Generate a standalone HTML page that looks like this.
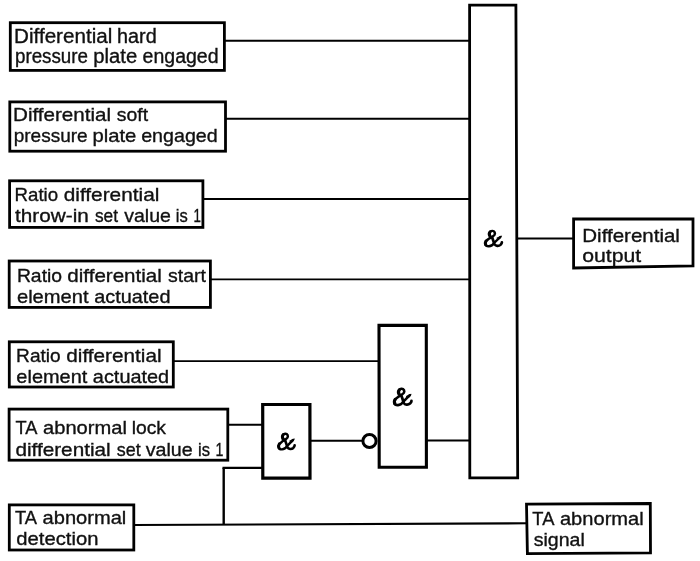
<!DOCTYPE html>
<html><head><meta charset="utf-8"><style>
html,body{margin:0;padding:0;background:#fff;}
svg{display:block;font-family:"Liberation Sans", sans-serif;filter:grayscale(100%);}
</style></head><body>
<svg width="700" height="561" viewBox="0 0 700 561">
<defs><g id="amp" fill="none" stroke="#000" stroke-linecap="round" stroke-linejoin="round">
<path d="M8.9,7.7 C5.8,6.9 5.2,1.2 8.8,0.9 C11.4,0.7 12.2,3.2 11.2,5.0 C10.2,6.6 7.8,7.8 5.6,9.1 C3.0,10.8 1.9,12.4 1.9,14.4 C1.9,16.5 3.6,17.2 5.6,17.1 C7.8,17.0 9.6,15.6 11.0,13.4 L17.0,7.3" stroke-width="2.5"/>
<path d="M6.3,6.0 C5.7,4.6 5.9,2.8 6.9,1.8" stroke-width="2.9"/>
<path d="M2.8,11.4 C2.0,12.6 2.0,14.6 2.6,15.6" stroke-width="3.0"/>
<path d="M8.6,7.4 C9.8,9.6 10.4,13.0 11.2,15.0 C12.2,17.0 15.4,17.2 17.2,15.6 C18.2,14.6 18.6,13.6 18.6,12.9" stroke-width="2.7"/>
<path d="M13.8,8.3 L18.3,6.2 L16.6,9.0 Z" fill="#000" stroke-width="0.8"/>
</g>
</defs>
<rect width="700" height="561" fill="#fff"/>
<g font-family="Liberation Sans" font-size="18.6" fill="#111" stroke="none">
<line x1="224" y1="40.8" x2="469" y2="40.8" stroke="#000" stroke-width="1.9"/>
<line x1="224" y1="118.8" x2="469" y2="118.8" stroke="#000" stroke-width="1.9"/>
<line x1="202" y1="199.0" x2="469" y2="199.0" stroke="#000" stroke-width="1.9"/>
<line x1="210" y1="279.4" x2="469" y2="279.4" stroke="#000" stroke-width="1.9"/>
<line x1="172" y1="361.1" x2="378" y2="361.1" stroke="#000" stroke-width="1.9"/>
<line x1="227" y1="424.7" x2="262" y2="424.7" stroke="#000" stroke-width="1.9"/>
<line x1="310" y1="440.7" x2="362" y2="440.7" stroke="#000" stroke-width="1.9"/>
<line x1="426" y1="440.5" x2="469" y2="440.5" stroke="#000" stroke-width="1.9"/>
<line x1="516" y1="238.5" x2="574" y2="238.5" stroke="#000" stroke-width="1.9"/>
<line x1="133" y1="525.0" x2="527" y2="523.3" stroke="#000" stroke-width="2.1"/>
<line x1="223.7" y1="467.8" x2="223.7" y2="524.6" stroke="#000" stroke-width="2.4"/>
<line x1="222.5" y1="467.8" x2="262" y2="467.8" stroke="#000" stroke-width="2.2"/>
<rect x="10.30" y="22.70" width="214.10" height="47.70" fill="#fff" stroke="#000" stroke-width="2.8"/>
<rect x="9.80" y="101.90" width="215.70" height="49.30" fill="#fff" stroke="#000" stroke-width="2.8"/>
<rect x="9.60" y="180.80" width="193.30" height="46.60" fill="#fff" stroke="#000" stroke-width="2.8"/>
<rect x="9.20" y="261.00" width="201.20" height="46.40" fill="#fff" stroke="#000" stroke-width="2.8"/>
<rect x="9.30" y="341.80" width="164.00" height="45.20" fill="#fff" stroke="#000" stroke-width="2.8"/>
<rect x="9.10" y="409.10" width="218.70" height="51.10" fill="#fff" stroke="#000" stroke-width="2.8"/>
<rect x="9.30" y="504.90" width="124.50" height="45.10" fill="#fff" stroke="#000" stroke-width="2.8"/>
<path d="M573.60,219.00 L693.00,218.80 L693.00,265.90 L573.60,268.00 Z" fill="#fff" stroke="#000" stroke-width="2.8" stroke-linejoin="miter"/>
<path d="M526.50,504.20 L650.30,503.50 L650.50,552.80 L527.40,553.60 Z" fill="#fff" stroke="#000" stroke-width="2.8" stroke-linejoin="miter"/>
<path d="M469.60,5.20 L515.90,5.20 L517.70,477.80 L469.80,477.80 Z" fill="#fff" stroke="#000" stroke-width="2.8" stroke-linejoin="miter"/>
<path d="M379.00,325.40 L426.30,325.40 L426.40,467.20 L379.20,467.20 Z" fill="#fff" stroke="#000" stroke-width="3.1" stroke-linejoin="miter"/>
<path d="M262.70,404.50 L309.90,404.50 L310.00,478.20 L262.80,478.20 Z" fill="#fff" stroke="#000" stroke-width="3.2" stroke-linejoin="miter"/>
<circle cx="369.5" cy="441" r="6.6" fill="#fff" stroke="#000" stroke-width="3.0"/>
<text x="14.11" y="42.60" font-size="19.6" textLength="98.15" lengthAdjust="spacingAndGlyphs" stroke="#111" stroke-width="0.35">Differential</text>
<text x="117.03" y="42.60" font-size="19.6" textLength="39.70" lengthAdjust="spacingAndGlyphs" stroke="#111" stroke-width="0.35">hard</text>
<text x="14.99" y="63.00" font-size="19.6" textLength="73.01" lengthAdjust="spacingAndGlyphs" stroke="#111" stroke-width="0.35">pressure</text>
<text x="93.31" y="63.00" font-size="19.6" textLength="43.92" lengthAdjust="spacingAndGlyphs" stroke="#111" stroke-width="0.35">plate</text>
<text x="142.58" y="63.00" font-size="19.6" textLength="75.96" lengthAdjust="spacingAndGlyphs" stroke="#111" stroke-width="0.35">engaged</text>
<text x="13.02" y="120.70" font-size="19.0" textLength="98.04" lengthAdjust="spacingAndGlyphs" stroke="#111" stroke-width="0.35">Differential</text>
<text x="116.84" y="120.70" font-size="19.0" textLength="31.24" lengthAdjust="spacingAndGlyphs" stroke="#111" stroke-width="0.35">soft</text>
<text x="13.68" y="142.10" font-size="19.0" textLength="73.93" lengthAdjust="spacingAndGlyphs" stroke="#111" stroke-width="0.35">pressure</text>
<text x="92.41" y="142.10" font-size="19.0" textLength="43.92" lengthAdjust="spacingAndGlyphs" stroke="#111" stroke-width="0.35">plate</text>
<text x="141.17" y="142.10" font-size="19.0" textLength="76.57" lengthAdjust="spacingAndGlyphs" stroke="#111" stroke-width="0.35">engaged</text>
<text x="14.55" y="200.70" font-size="19.0" textLength="43.53" lengthAdjust="spacingAndGlyphs" stroke="#111" stroke-width="0.35">Ratio</text>
<text x="63.74" y="200.70" font-size="19.0" textLength="95.63" lengthAdjust="spacingAndGlyphs" stroke="#111" stroke-width="0.35">differential</text>
<text x="15.10" y="221.60" font-size="19.0" textLength="73.69" lengthAdjust="spacingAndGlyphs" stroke="#111" stroke-width="0.35">throw-in</text>
<text x="94.97" y="221.60" font-size="19.0" textLength="23.09" lengthAdjust="spacingAndGlyphs" stroke="#111" stroke-width="0.35">set</text>
<text x="124.26" y="221.60" font-size="19.0" textLength="46.68" lengthAdjust="spacingAndGlyphs" stroke="#111" stroke-width="0.35">value</text>
<text x="175.81" y="221.60" font-size="19.0" textLength="11.98" lengthAdjust="spacingAndGlyphs" stroke="#111" stroke-width="0.35">is</text>
<text x="193.40" y="221.60" font-size="19.0" textLength="7.42" lengthAdjust="spacingAndGlyphs" stroke="#111" stroke-width="0.35">1</text>
<text x="16.90" y="282.20" font-size="19.0" textLength="45.20" lengthAdjust="spacingAndGlyphs" stroke="#111" stroke-width="0.35">Ratio</text>
<text x="67.35" y="282.20" font-size="19.0" textLength="94.51" lengthAdjust="spacingAndGlyphs" stroke="#111" stroke-width="0.35">differential</text>
<text x="167.94" y="282.20" font-size="19.0" textLength="37.98" lengthAdjust="spacingAndGlyphs" stroke="#111" stroke-width="0.35">start</text>
<text x="16.96" y="302.70" font-size="19.0" textLength="71.64" lengthAdjust="spacingAndGlyphs" stroke="#111" stroke-width="0.35">element</text>
<text x="94.27" y="302.70" font-size="19.0" textLength="76.20" lengthAdjust="spacingAndGlyphs" stroke="#111" stroke-width="0.35">actuated</text>
<text x="16.12" y="361.70" font-size="19.0" textLength="44.57" lengthAdjust="spacingAndGlyphs" stroke="#111" stroke-width="0.35">Ratio</text>
<text x="66.34" y="361.70" font-size="19.0" textLength="95.22" lengthAdjust="spacingAndGlyphs" stroke="#111" stroke-width="0.35">differential</text>
<text x="16.36" y="382.50" font-size="19.0" textLength="70.94" lengthAdjust="spacingAndGlyphs" stroke="#111" stroke-width="0.35">element</text>
<text x="92.87" y="382.50" font-size="19.0" textLength="76.30" lengthAdjust="spacingAndGlyphs" stroke="#111" stroke-width="0.35">actuated</text>
<text x="15.46" y="434.40" font-size="19.0" textLength="21.94" lengthAdjust="spacingAndGlyphs" stroke="#111" stroke-width="0.35">TA</text>
<text x="43.06" y="434.40" font-size="19.0" textLength="83.86" lengthAdjust="spacingAndGlyphs" stroke="#111" stroke-width="0.35">abnormal</text>
<text x="131.66" y="434.40" font-size="19.0" textLength="34.36" lengthAdjust="spacingAndGlyphs" stroke="#111" stroke-width="0.35">lock</text>
<text x="15.44" y="455.70" font-size="19.0" textLength="95.22" lengthAdjust="spacingAndGlyphs" stroke="#111" stroke-width="0.35">differential</text>
<text x="116.86" y="455.70" font-size="19.0" textLength="23.90" lengthAdjust="spacingAndGlyphs" stroke="#111" stroke-width="0.35">set</text>
<text x="145.66" y="455.70" font-size="19.0" textLength="46.98" lengthAdjust="spacingAndGlyphs" stroke="#111" stroke-width="0.35">value</text>
<text x="198.01" y="455.70" font-size="19.0" textLength="11.98" lengthAdjust="spacingAndGlyphs" stroke="#111" stroke-width="0.35">is</text>
<text x="215.54" y="455.70" font-size="19.0" textLength="7.91" lengthAdjust="spacingAndGlyphs" stroke="#111" stroke-width="0.35">1</text>
<text x="14.95" y="524.20" font-size="19.0" textLength="22.04" lengthAdjust="spacingAndGlyphs" stroke="#111" stroke-width="0.35">TA</text>
<text x="42.56" y="524.20" font-size="19.0" textLength="83.75" lengthAdjust="spacingAndGlyphs" stroke="#111" stroke-width="0.35">abnormal</text>
<text x="16.36" y="544.80" font-size="19.0" textLength="82.10" lengthAdjust="spacingAndGlyphs" stroke="#111" stroke-width="0.35">detection</text>
<text x="582.32" y="241.50" font-size="19.0" textLength="97.63" lengthAdjust="spacingAndGlyphs" stroke="#111" stroke-width="0.35">Differential</text>
<text x="582.23" y="262.20" font-size="19.0" textLength="59.02" lengthAdjust="spacingAndGlyphs" stroke="#111" stroke-width="0.35">output</text>
<text x="532.35" y="525.10" font-size="19.0" textLength="22.04" lengthAdjust="spacingAndGlyphs" stroke="#111" stroke-width="0.35">TA</text>
<text x="559.96" y="525.10" font-size="19.0" textLength="83.75" lengthAdjust="spacingAndGlyphs" stroke="#111" stroke-width="0.35">abnormal</text>
<text x="533.74" y="546.30" font-size="19.0" textLength="51.11" lengthAdjust="spacingAndGlyphs" stroke="#111" stroke-width="0.35">signal</text>
<use href="#amp" transform="translate(276.59,432.86) scale(0.9703,0.9653)"/>
<use href="#amp" transform="translate(392.25,387.88) scale(1.0323,1.0080)"/>
<use href="#amp" transform="translate(483.27,230.06) scale(1.0013,0.9493)"/>
</g></svg>
</body></html>
